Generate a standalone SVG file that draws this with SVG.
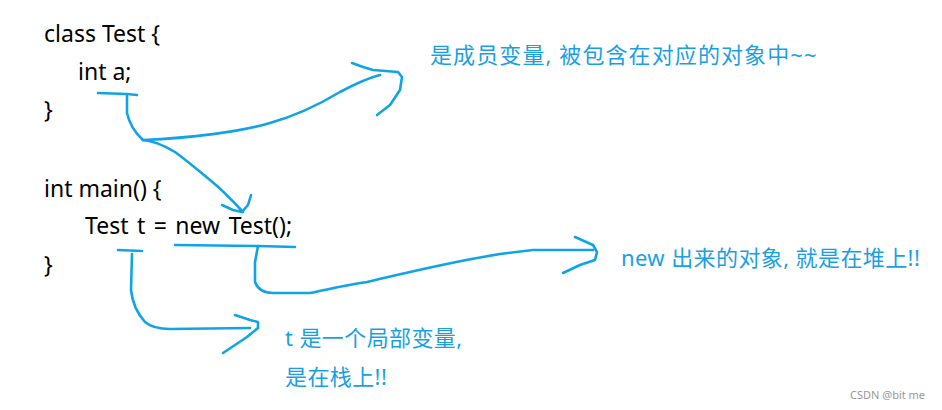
<svg xmlns="http://www.w3.org/2000/svg" width="942" height="410" viewBox="0 0 942 410">
<style>
.code{font-family:"Noto Sans","Noto Sans CJK SC",sans-serif;font-size:23px;fill:#000}
.note{font-family:"Noto Sans","Noto Sans CJK SC",sans-serif;font-size:22px;fill:#1a9fe4;letter-spacing:0.4px}
.ink{fill:none;stroke:#12a3e6;stroke-width:2.6;stroke-linecap:round;stroke-linejoin:round}
.wm{font-family:"Noto Sans",sans-serif;font-size:11px;fill:#999}
</style>
<rect width="942" height="410" fill="#fff"/>
<g id="code">
<text class="code" x="44" y="42">class Test {</text>
<text class="code" x="78" y="80">int a;</text>
<text class="code" x="44" y="118">}</text>
<text class="code" x="44" y="197">int main() {</text>
<text class="code" x="85" y="234" word-spacing="2.5">Test t = new Test();</text>
<text class="code" x="44" y="273">}</text>
</g>
<g id="note-member">
<text class="note" x="430" y="63" style="letter-spacing:1.1px">是成员变量, 被包含在对应的对象中~~</text>
</g>
<g id="note-heap">
<text class="note" x="621" y="266">new 出来的对象, 就是在堆上!!</text>
</g>
<g id="note-stack">
<text class="note" x="285" y="346">t 是一个局部变量,</text>
<text class="note" x="285" y="385">是在栈上!!</text>
</g>
<g id="connectors">
<path class="ink" d="M98,93 L127,94 L137,95"/>
<path class="ink" d="M127,96 L127,113 C129,122 134,132 143,140"/>
<path class="ink" d="M143,140 C190,138 240,132 270,123 C295,116 315,107 340,92 C355,84 368,78 380,75"/>
<path class="ink" d="M352,63 L363,67 L373,70 L398,72 L402,77 L400,90 L390,105 L377,115"/>
<path class="ink" d="M143,140 C155,141 165,146 175,152 C190,163 200,172 210,180 C220,188 232,200 243,212"/>
<path class="ink" d="M222,205 L233,210 L242,212 L248,205 L251,195"/>
<path class="ink" d="M175,245 L258,246 L295,247"/>
<path class="ink" d="M258,246 L255,262 L255,282 C258,290 265,293 273,293 L310,293 C330,289 345,285 367,282 C410,272 450,262 500,254 L533,250 L593,250"/>
<path class="ink" d="M575,237 L593,245 L597,252 L595,260 L580,265 L563,273"/>
<path class="ink" d="M118,250 L142,251"/>
<path class="ink" d="M132,254 L131,290 C132,300 136,312 145,322 C152,328 160,329 170,329 L250,328"/>
<path class="ink" d="M235,315 L250,320 L258,322 L258,328 L247,337 L223,353"/>
</g>
<text class="wm" x="850" y="399">CSDN @bit me</text>
</svg>
